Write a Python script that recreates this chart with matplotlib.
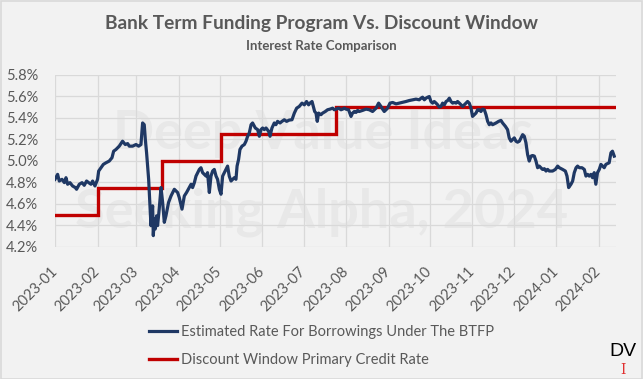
import matplotlib
matplotlib.use("Agg")
import matplotlib.pyplot as plt
import pandas as pd
from matplotlib.ticker import FuncFormatter, MultipleLocator
from matplotlib.patches import Rectangle

# ---------------- data ----------------
base_date = "2023-01-01"
btfp_day = [0, 1.9, 3.1, 5.1, 6.8, 8.0, 9.2, 10.9, 12.8, 14.8, 15.7, 17.7, 19.7, 21.3, 23.0, 24.5,
            26.2, 27.4, 29.1, 31.0, 31.8, 33.5, 35.2, 37.1, 39.5, 41.5, 42.7, 44.4, 46.8, 49.2, 51.2,
            52.9, 54.1, 56.5, 59.0, 60.9, 62.6, 63.8, 65.0, 65.8, 66.7, 68.2, 69.2, 69.9, 71.1, 71.6,
            72.3, 73.0, 74.0, 74.7, 75.9, 77.2, 78.4, 79.6, 80.8, 82.7, 84.5, 86.9, 89.3, 90.5, 92.5,
            94.2, 95.8, 97.8, 99.1, 100.2, 101.5, 102.7, 103.9, 105.1, 106.3, 107.5, 108.7, 110.0,
            111.1, 112.4, 113.6, 114.8, 116.0, 117.3, 118.4, 119.7, 120.9, 122.1, 123.3, 124.5, 125.7,
            126.9, 128.2, 129.4, 130.6, 131.8, 132.6, 133.7, 134.7, 136.2, 137.9, 139.1, 140.3, 141.5,
            142.8, 143.9, 145.9, 147.6, 148.8, 150.0, 151.2, 152.4, 153.7, 155.6, 156.6, 158.0, 159.7,
            160.9, 162.1, 163.9, 165.3, 167.0, 168.7, 170.6, 172.6, 174.3, 176.0, 177.9, 179.9, 181.6,
            183.2, 184.7, 185.7, 187.2, 188.1, 189.1, 190.1, 191.0, 192.0, 193.7, 194.9, 196.9, 198.5,
            200.3, 202.2, 203.4, 204.7, 206.6, 208.3, 209.5, 210.7, 211.9, 213.8, 215.6, 216.7, 218.0,
            219.2, 220.4, 221.6, 224.0, 226.5, 228.9, 231.3, 233.8, 235.7, 237.4, 238.6, 239.8, 241.1,
            242.2, 244.0, 245.9, 248.4, 250.8, 253.2, 255.6, 258.0, 260.5, 262.9, 265.3, 266.6, 267.7,
            269.0, 270.2, 271.4, 272.6, 273.8, 275.0, 276.2, 277.5, 278.7, 279.9, 281.1, 282.3, 283.6,
            284.8, 286.0, 287.2, 288.4, 289.6, 290.8, 292.1, 293.2, 294.5, 295.7, 296.9, 298.1, 299.3,
            300.5, 301.7, 303.0, 304.1, 305.4, 306.6, 307.8, 309.0, 310.2, 311.4, 312.7, 313.9, 315.1,
            316.3, 317.5, 318.7, 321.2, 323.1, 324.8, 326.0, 328.0, 329.6, 330.8, 332.1, 333.3, 334.5,
            335.7, 336.9, 338.2, 339.4, 340.6, 341.8, 343.0, 344.2, 345.4, 346.7, 347.8, 349.1, 350.3,
            351.5, 352.7, 353.9, 355.1, 356.4, 357.6, 358.8, 360.0, 362.4, 364.4, 366.1, 367.3, 369.7,
            371.7, 372.9, 374.1, 375.8, 377.0, 378.2, 379.5, 380.6, 381.9, 383.8, 385.5, 386.7, 387.9,
            389.1, 390.3, 391.5, 392.7, 393.9, 395.1, 396.4, 397.6, 398.8, 400.0, 401.2, 403.6, 404.9,
            406.0, 407.3]
btfp_rate = [4.828, 4.874, 4.812, 4.828, 4.797, 4.843, 4.782, 4.797, 4.766, 4.751, 4.735, 4.782,
             4.797, 4.772, 4.812, 4.797, 4.782, 4.812, 4.766, 4.828, 4.905, 4.936, 4.967, 4.982,
             4.998, 5.029, 5.090, 5.106, 5.137, 5.183, 5.152, 5.161, 5.137, 5.137, 5.152, 5.137,
             5.152, 5.353, 5.337, 5.198, 5.075, 4.828, 4.581, 4.396, 4.581, 4.303, 4.457, 4.365,
             4.488, 4.396, 4.550, 4.751, 4.612, 4.427, 4.488, 4.612, 4.673, 4.735, 4.705, 4.658,
             4.550, 4.673, 4.705, 4.751, 4.782, 4.751, 4.797, 4.858, 4.890, 4.920, 4.936, 4.890,
             4.874, 4.858, 4.890, 4.705, 4.858, 4.905, 4.920, 4.858, 4.828, 4.735, 4.689, 4.858,
             4.890, 4.920, 4.951, 4.858, 4.812, 4.828, 4.843, 4.828, 4.951, 5.013, 5.106, 5.137,
             5.152, 5.183, 5.229, 5.260, 5.337, 5.353, 5.306, 5.291, 5.229, 5.291, 5.306, 5.291,
             5.306, 5.275, 5.229, 5.306, 5.353, 5.337, 5.368, 5.353, 5.368, 5.383, 5.368, 5.380,
             5.383, 5.445, 5.491, 5.507, 5.538, 5.522, 5.553, 5.522, 5.538, 5.553, 5.507, 5.460,
             5.445, 5.368, 5.445, 5.430, 5.445, 5.460, 5.476, 5.482, 5.491, 5.476, 5.482, 5.491,
             5.476, 5.482, 5.491, 5.482, 5.476, 5.414, 5.445, 5.460, 5.451, 5.470, 5.460, 5.470,
             5.482, 5.476, 5.460, 5.491, 5.538, 5.507, 5.482, 5.460, 5.476, 5.491, 5.538, 5.544,
             5.531, 5.538, 5.544, 5.553, 5.562, 5.569, 5.575, 5.569, 5.584, 5.593, 5.569, 5.584,
             5.593, 5.599, 5.553, 5.538, 5.553, 5.538, 5.522, 5.501, 5.507, 5.538, 5.522, 5.553,
             5.562, 5.584, 5.553, 5.538, 5.544, 5.538, 5.553, 5.538, 5.522, 5.507, 5.522, 5.538,
             5.553, 5.538, 5.491, 5.414, 5.430, 5.445, 5.476, 5.476, 5.460, 5.482, 5.476, 5.430,
             5.368, 5.337, 5.353, 5.337, 5.353, 5.368, 5.377, 5.353, 5.322, 5.291, 5.214, 5.183,
             5.198, 5.214, 5.183, 5.174, 5.183, 5.214, 5.244, 5.229, 5.168, 5.059, 4.998, 5.044,
             5.050, 5.044, 4.998, 4.936, 4.951, 4.936, 4.920, 4.927, 4.905, 4.920, 4.905, 4.905,
             4.920, 4.951, 4.936, 4.920, 4.905, 4.858, 4.751, 4.782, 4.812, 4.890, 4.936, 4.951,
             4.936, 4.936, 4.920, 4.858, 4.874, 4.858, 4.874, 4.843, 4.890, 4.782, 4.890, 4.920,
             4.967, 4.951, 4.936, 4.967, 4.982, 5.075, 5.090, 5.044]

dw_dates = ["2023-01-01", "2023-02-01", "2023-03-20", "2023-05-02", "2023-07-25", "2024-02-13"]
dw_rate = [4.50, 4.75, 5.00, 5.25, 5.50, 5.50]

month_ticks = ["2023-01", "2023-02", "2023-03", "2023-04", "2023-05", "2023-06", "2023-07",
               "2023-08", "2023-09", "2023-10", "2023-11", "2023-12", "2024-01", "2024-02"]

title = "Bank Term Funding Program Vs. Discount Window"
subtitle = "Interest Rate Comparison"
label_btfp = "Estimated Rate For Borrowings Under The BTFP"
label_dw = "Discount Window Primary Credit Rate"

# ---------------- styling ----------------
FONT = "Lato"
TXT = "#595959"
BG = "#F2F2F2"
GRID = "#D9D9D9"
BLUE = "#1F3864"
RED = "#C00000"

plt.rcParams["font.family"] = [FONT, "DejaVu Sans"]

W, H = 643, 379
fig = plt.figure(figsize=(W / 100, H / 100), dpi=100, facecolor=BG)

# figure border
fig.patches.append(Rectangle((0.5 / W, 0.5 / H), 1 - 1.5 / W, 1 - 1.5 / H, transform=fig.transFigure,
                             fill=False, edgecolor=GRID, linewidth=1.2, zorder=10))

ax = fig.add_axes([55 / W, 1 - 246.7 / H, (616 - 55) / W, (246.7 - 75) / H])
ax.set_facecolor("none")
ax.set_zorder(1)

dates = pd.Timestamp(base_date) + pd.to_timedelta(btfp_day, unit="D")
dw = pd.to_datetime(dw_dates)

ax.plot(dw, dw_rate, drawstyle="steps-post", color=RED, lw=2.4, solid_joinstyle="miter", zorder=3,
        label=label_dw)
ax.plot(dates, btfp_rate, color=BLUE, lw=2.3, solid_joinstyle="round", zorder=4, label=label_btfp)

ax.set_ylim(4.2, 5.8)
ax.yaxis.set_major_locator(MultipleLocator(0.2))
ax.yaxis.set_major_formatter(FuncFormatter(lambda v, p: f"{v:.1f}%"))

ax.set_xlim(pd.Timestamp(base_date), pd.Timestamp("2024-02-13") + pd.Timedelta(hours=14))
tick_pos = pd.to_datetime([m + "-01" for m in month_ticks])
ax.set_xticks(tick_pos)
ax.set_xticklabels(month_ticks, rotation=45, ha="right", va="center", rotation_mode="anchor")

ax.grid(True, color=GRID, lw=0.9)
ax.set_axisbelow(True)
for s in ax.spines.values():
    s.set_visible(False)
ax.tick_params(axis="both", length=0, labelsize=10.5, labelcolor=TXT)
ax.tick_params(axis="y", pad=12)
ax.tick_params(axis="x", pad=16)

# watermark
fig.text(0.503, 1 - 134 / H, "Deep Value Ideas", ha="center", va="center", fontsize=39,
         fontweight="bold", color="#E8E8E8", zorder=-5)
fig.text(0.5, 1 - 212 / H, "Seeking Alpha, 2024", ha="center", va="center", fontsize=39,
         fontweight="bold", color="#E8E8E8", zorder=-5)

# titles
fig.text(0.5, 1 - 24 / H, title, ha="center", va="center", fontsize=13.8, fontweight="bold", color=TXT)
fig.text(0.5, 1 - 46 / H, subtitle, ha="center", va="center", fontsize=9.5, fontweight="bold", color=TXT)

# legend (BTFP first)
h, l = ax.get_legend_handles_labels()
leg = fig.legend([h[1], h[0]], [l[1], l[0]], loc="center", bbox_to_anchor=(0.5, 1 - 346 / H),
                 ncol=1, frameon=False, fontsize=10.5, handlelength=1.9, handletextpad=0.25,
                 labelspacing=0.95, labelcolor=TXT)

# DV logo
fig.text(623 / W, 1 - 352 / H, "DV", ha="center", va="center", fontsize=14, color="black",
         family=["Liberation Sans", "DejaVu Sans"])
fig.text(623 / W, 1 - 370 / H, "I", ha="center", va="center", fontsize=10, color="#E03030",
         family=["DejaVu Serif"])

fig.savefig("out.png", dpi=100, facecolor=BG)
